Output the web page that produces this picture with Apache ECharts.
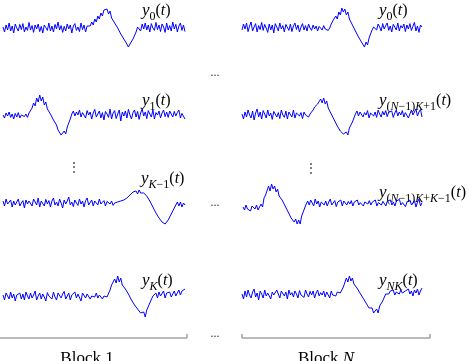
<!DOCTYPE html>
<html>
<head>
<meta charset="utf-8">
<script src="https://cdn.jsdelivr.net/npm/echarts@6/dist/echarts.min.js"></script>
<style>html,body{margin:0;padding:0;background:#fff}#c{width:474px;height:361px}</style>
</head>
<body>
<div id="c"></div>
<script>
// Signal samples (amplitude units, baseline 0)
const y0_block1 = [0.05,-0.2,0.15,-0.1,0.25,-0.15,0.1,-0.25,0.2,0.0,-0.15,0.18,-0.08,0.22,-0.2,0.05,-0.12,0.28,-0.1,0.12,
-0.22,0.15,-0.05,0.2,-0.18,0.08,-0.25,0.15,0.02,-0.12,0.25,-0.15,0.1,-0.2,0.18,-0.05,0.3,-0.1,0.12,-0.22,
0.08,-0.15,0.2,-0.05,0.15,-0.25,0.1,0.22,-0.12,0.05,-0.18,0.25,-0.08,0.15,-0.2,0.1,0.02,
0.1,0.3,0.15,0.45,0.3,0.6,0.45,0.75,0.6,0.9,0.8,
0.95,0.7,0.85,0.5,0.6,0.25,0.35,0.0,0.1,-0.3,-0.2,-0.55,-0.45,-0.8,-0.95,
-0.8,-0.9,-0.55,-0.5,-0.2,0.05,
0.1,-0.15,0.2,-0.05,0.25,-0.1,0.15,-0.2,0.22,0.0,-0.12,0.28,-0.08,0.15,-0.18,0.2,0.05,-0.22,0.25,-0.1,0.12,-0.15,0.3,-0.05,0.18,-0.2,0.1,0.25,-0.12,0.15,-0.18];

const y0_blockN = [-0.1,0.2,-0.05,0.25,-0.18,0.1,0.3,-0.15,0.05,0.22,-0.2,0.12,-0.08,0.28,-0.12,0.18,0.0,-0.22,0.2,-0.1,
0.15,-0.25,0.22,0.05,-0.15,0.25,-0.05,0.12,-0.2,0.18,0.08,-0.12,0.2,-0.18,0.1,0.25,-0.08,0.15,-0.2,0.05,
0.22,-0.1,0.12,-0.15,0.2,0.0,-0.12,0.15,-0.05,0.1,-0.15,0.08,0.0,-0.1,0.12,-0.05,0.05,-0.12,0.0,
0.2,0.35,0.25,0.6,0.45,0.8,0.65,1.0,0.8,
0.95,0.65,0.8,0.45,0.5,0.15,0.2,-0.15,-0.1,-0.45,-0.4,-0.7,-0.8,-0.95,
-0.7,-0.85,-0.5,-0.45,-0.1,0.05,
0.15,-0.1,0.2,0.05,-0.15,0.22,-0.05,0.12,0.25,-0.12,0.1,-0.2,0.18,0.05,-0.1,0.25,-0.15,0.12,0.0,0.2,-0.18,0.15,-0.05,0.22,-0.12,0.08,0.28,-0.15,0.1,-0.22,0.15,0.05];

const y1_block1 = [0.0,-0.15,0.1,-0.05,0.15,-0.12,0.05,-0.2,0.08,-0.1,0.12,-0.15,0.0,0.1,-0.08,0.05,-0.12,0.1,0.0,
0.35,0.6,0.45,0.85,0.65,1.0,
0.7,0.9,0.5,0.65,0.3,0.35,0.05,0.1,-0.25,-0.35,-0.5,-0.75,-0.65,-1.0,-0.95,
-0.8,-0.95,-0.6,-0.55,-0.2,0.05,
0.2,-0.05,0.15,0.0,0.25,-0.1,0.12,0.05,-0.15,0.22,0.0,0.15,-0.2,0.1,0.28,-0.1,0.05,0.2,-0.15,0.12,
-0.25,0.18,0.05,-0.12,0.3,-0.2,0.1,0.22,-0.18,0.05,0.25,-0.3,0.15,-0.05,0.2,-0.15,0.28,0.0,-0.2,0.12,
0.25,-0.1,0.18,-0.22,0.1,0.3,-0.05,0.15,-0.18,0.22,0.05,-0.1,0.25,-0.2,0.12,0.0,0.2,-0.15,0.1,0.25,
-0.08,0.15,-0.12,0.2,0.05,-0.1,0.18,-0.05,0.12,0.25,-0.15,0.08,0.15,-0.2];

const y1_blockN = [0.05,-0.2,0.15,-0.1,0.25,0.0,-0.15,0.2,-0.25,0.1,0.3,-0.1,0.15,-0.2,0.22,0.05,-0.15,0.25,-0.05,0.1,
-0.22,0.18,0.28,-0.1,0.12,-0.18,0.25,0.0,-0.12,0.2,-0.2,0.15,0.05,-0.1,0.25,-0.15,0.1,0.2,-0.05,0.12,
-0.18,0.15,0.0,0.1,-0.1,0.05,0.0,
0.25,0.4,0.3,0.55,0.5,0.8,0.6,0.85,
0.55,0.7,0.35,0.4,0.05,0.1,-0.25,-0.2,-0.55,-0.5,-0.8,-0.7,-0.95,-1.0,
-0.85,-1.0,-0.65,-0.65,-0.35,-0.25,0.05,
0.2,-0.05,0.15,0.25,-0.1,0.12,0.0,0.22,-0.15,0.1,0.2,-0.05,0.15,-0.12,0.25,0.05,-0.1,0.18,0.0,0.22,
-0.08,0.15,0.05,0.2,-0.12,0.1,0.25,-0.05,0.15,0.0,0.22,-0.1,0.12,0.2,-0.15,0.05,0.25,0.0,-0.1,0.3,
-0.05,0.15,0.28,-0.1];

const yKm1_block1 = [0.1,-0.15,0.2,-0.05,0.0,0.15,-0.2,0.1,-0.1,0.05,0.2,-0.15,0.0,0.12,-0.25,0.15,-0.05,0.1,0.0,-0.15,
0.2,0.05,-0.1,0.25,-0.2,0.1,0.0,-0.15,0.18,-0.05,0.12,-0.2,0.1,0.25,-0.1,0.05,-0.15,0.2,0.0,-0.25,
0.15,-0.05,0.1,0.3,-0.1,0.05,-0.18,0.15,0.0,-0.12,0.2,-0.05,0.1,-0.2,0.12,0.25,-0.1,0.0,0.15,-0.15,
0.1,0.05,-0.1,0.2,-0.05,0.0,0.12,-0.15,0.08,0.18,-0.05,0.1,-0.12,0.0,0.1,0.05,-0.05,0.1,0.05,0.15,
0.2,0.25,
0.25,0.4,0.35,0.55,0.45,
0.6,0.45,0.65,0.5,0.6,0.5,0.5,0.35,0.35,
0.1,0.05,-0.2,-0.25,-0.5,-0.5,-0.75,-0.7,-0.95,-0.9,-1.05,-1.1,
-0.85,-0.9,-0.55,-0.5,-0.25,-0.2,0.05,
-0.15,0.05,-0.2,0.0,-0.1];

const yKm1_blockN = [-0.1,-0.25,0.0,-0.2,-0.1,-0.3,-0.05,-0.15,-0.2,0.0,-0.25,-0.1,0.05,-0.1,
0.35,0.5,0.55,0.95,0.7,1.05,
0.8,0.95,0.65,0.8,0.45,0.45,0.25,0.15,-0.05,-0.1,-0.35,-0.35,-0.65,-0.6,-0.85,-0.7,-0.95,
-0.75,-0.95,-0.55,-0.45,-0.15,0.05,
0.2,0.0,0.25,0.1,-0.05,0.3,0.05,0.2,-0.1,0.15,0.25,0.0,0.2,-0.05,0.15,0.3,0.0,0.1,0.22,-0.08,
0.15,0.05,0.25,-0.05,0.2,0.1,0.0,0.18,0.05,0.22,-0.05,0.15,0.1,0.25,0.0,0.12,0.2,-0.05,0.15,0.1,
0.05,0.22,0.0,0.15,0.1,0.25,-0.05,0.12,0.2,0.0,0.18,0.08,-0.05,0.2,0.1,0.25,0.0,0.15,-0.05,0.2,
0.1,0.28,0.0,0.12,0.2,-0.08,0.15,0.05,0.25,0.0,0.1,0.22,-0.1,0.15,0.3,-0.05,0.12];

const yK_block1 = [0.1,-0.15,0.2,0.05,-0.1,0.25,-0.05,0.15,-0.2,0.1,0.0,0.2,-0.1,0.15,-0.15,0.25,0.05,-0.1,0.2,-0.05,
0.1,0.3,-0.15,0.05,0.2,-0.1,0.15,0.0,-0.2,0.22,0.05,0.15,-0.1,0.25,0.0,-0.15,0.2,0.1,-0.05,0.15,
0.28,-0.1,0.05,0.2,-0.15,0.1,0.0,0.25,-0.05,0.15,0.05,-0.2,0.2,0.1,-0.05,0.15,0.25,-0.1,0.05,0.12,
0.0,0.2,-0.05,0.1,0.15,-0.1,0.05,0.12,0.0,0.1,
0.35,0.6,0.65,0.9,0.7,1.05,
0.75,0.95,0.6,0.65,0.4,0.4,0.15,0.15,-0.15,-0.15,-0.4,-0.4,-0.6,-0.65,-0.8,-0.9,
-0.75,-1.0,-0.65,-0.6,-0.3,-0.25,0.05,0.1,
0.2,-0.05,0.25,0.05,0.15,0.3,-0.05,0.2,0.1,0.25,0.0,0.15,0.3,0.05,0.2,0.35,0.1,0.3,0.25,0.4];

const yK_blockN = [0.05,-0.2,0.2,-0.1,0.25,0.0,-0.15,0.15,0.3,-0.1,0.1,-0.25,0.2,0.05,-0.15,0.25,-0.05,0.1,0.2,-0.2,
0.15,0.0,-0.1,0.25,0.05,-0.15,0.2,0.1,-0.05,0.15,-0.2,0.25,0.0,0.12,-0.1,0.2,0.05,-0.15,0.22,0.0,
0.1,-0.12,0.25,0.05,-0.1,0.18,0.0,0.2,-0.15,0.1,0.25,-0.05,0.12,0.0,0.2,-0.1,0.15,0.05,-0.15,0.2,
0.0,0.1,-0.05,0.15,0.05,0.1,0.15,
0.4,0.5,0.85,0.65,0.95,
0.7,0.85,0.55,0.6,0.35,0.35,0.1,0.1,-0.15,-0.2,-0.4,-0.45,-0.65,-0.7,-0.65,-0.9,-0.85,
-0.7,-0.9,-0.55,-0.55,-0.3,-0.2,0.05,0.15,
0.05,0.2,0.1,0.25,0.0,0.15,0.2,0.05,0.25,0.1,0.0,0.2,0.15,0.3,0.05,0.2,-0.05,0.25,0.1,0.3,0.0,0.2,0.35];

const signals = [y0_block1, y0_blockN, y1_block1, y1_blockN, yKm1_block1, yKm1_blockN, yK_block1, yK_blockN];

// Signal labels (rich text)
const labelTexts = [
  '{y|y}{s|0}{p|(}{t|t}{p|)}',
  '{y|y}{s|0}{p|(}{t|t}{p|)}',
  '{y|y}{s|1}{p|(}{t|t}{p|)}',
  '{y|y}{s|(}{si|N}{s|−1)}{si|K}{s|+1}{p|(}{t|t}{p|)}',
  '{y|y}{si|K}{s|−1}{p|(}{t|t}{p|)}',
  '{y|y}{s|(}{si|N}{s|−1)}{si|K}{s|+}{si|K}{s|−1}{p|(}{t|t}{p|)}',
  '{y|y}{si|K}{p|(}{t|t}{p|)}',
  '{y|y}{si|NK}{p|(}{t|t}{p|)}'
];
const blockLabels = ['Block 1', 'Block {i|N}'];

// Layout (pixels): left, width, baseline
const panelLayout = [
  [3, 182, 28], [242, 180, 28],
  [3, 182, 115], [242, 180, 115],
  [3, 182, 203], [243, 179, 205],
  [3, 182, 297], [242, 180, 295]
];
const labelPos = [
  [142, 11], [379, 11], [142, 101], [379, 101],
  [141, 179], [379, 193], [142, 281], [379, 281]
];
const UNIT = 20, YR = 1.4;

const grid = [], xAxis = [], yAxis = [], series = [];
signals.forEach((d, k) => {
  const [l, w, b] = panelLayout[k];
  grid.push({left: l, width: w, top: b - YR * UNIT, height: 2 * YR * UNIT});
  xAxis.push({type: 'value', gridIndex: k, min: 0, max: d.length - 1, show: false});
  yAxis.push({type: 'value', gridIndex: k, min: -YR, max: YR, show: false});
  series.push({
    type: 'line', xAxisIndex: k, yAxisIndex: k, data: d.map((v, i) => [i, v]),
    showSymbol: false, symbol: 'none', clip: false, animation: false,
    lineStyle: {color: '#0000ff', width: 1}, silent: true
  });
});

const F = 'Liberation Serif';
const subPad = [11, 0, 0, 0];
const rich = {
  y: {fontFamily: F, fontStyle: 'italic', fontSize: 17, lineHeight: 22, fill: '#000'},
  t: {fontFamily: F, fontStyle: 'italic', fontSize: 16, lineHeight: 22, fill: '#000'},
  p: {fontFamily: F, fontSize: 16, lineHeight: 22, fill: '#000'},
  s: {fontFamily: F, fontSize: 12, lineHeight: 12, padding: subPad, fill: '#000'},
  si: {fontFamily: F, fontStyle: 'italic', fontSize: 12, lineHeight: 12, padding: subPad, fill: '#000'}
};

const graphic = [];
labelTexts.forEach((txt, k) => {
  graphic.push({type: 'text', x: labelPos[k][0], y: labelPos[k][1],
    style: {text: txt, rich: rich, align: 'left', verticalAlign: 'middle'}, silent: true});
});
// ellipses and vertical dots
[[215, 73], [215, 203], [215, 334]].forEach(p => graphic.push({type: 'text', x: p[0], y: p[1],
  style: {text: '...', font: '12px ' + F, fill: '#333', align: 'center', verticalAlign: 'middle'}}));
[[74, 168], [311, 169]].forEach(p => graphic.push({type: 'text', x: p[0], y: p[1],
  style: {text: '⋮', font: '12px ' + F, fill: '#333', align: 'center', verticalAlign: 'middle'}}));
// brackets
graphic.push({type: 'polyline', shape: {points: [[0, 338], [187, 338], [187, 334]]},
  style: {stroke: '#777', lineWidth: 1, fill: null}});
graphic.push({type: 'polyline', shape: {points: [[242, 334], [242, 338], [430, 338], [430, 334]]},
  style: {stroke: '#777', lineWidth: 1, fill: null}});
// block labels
[[87, 359], [326, 359]].forEach((p, k) => graphic.push({type: 'text', x: p[0], y: p[1],
  style: {text: blockLabels[k], align: 'center', verticalAlign: 'middle', font: '17px ' + F, fill: '#000',
    rich: {i: {fontFamily: F, fontStyle: 'italic', fontSize: 17, fill: '#000'}}}}));

const chart = echarts.init(document.getElementById('c'), null, {renderer: 'canvas'});
chart.setOption({animation: false, grid, xAxis, yAxis, series, graphic});
</script>
</body>
</html>
